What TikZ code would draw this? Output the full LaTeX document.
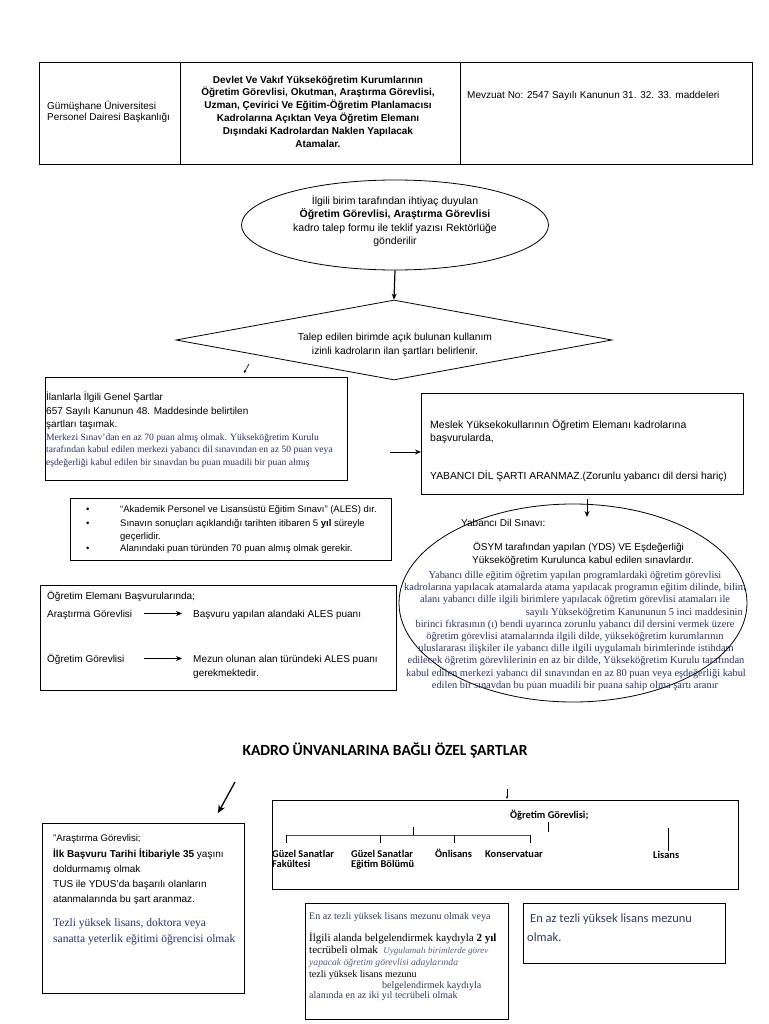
\documentclass[tikz,border=0pt]{standalone}
\usepackage{fontspec}
\setmainfont{Liberation Sans}
\newfontfamily\tms{Liberation Serif}
\newfontfamily\clb{Carlito}
\usetikzlibrary{shapes.geometric,arrows.meta}
\definecolor{navy}{RGB}{40,50,100}
\definecolor{itgray}{RGB}{85,92,125}
\definecolor{bluegray}{RGB}{50,58,95}
\begin{document}
\begin{tikzpicture}[x=1pt,y=-1pt,
 box/.style={draw,line width=0.8pt,inner sep=0pt,anchor=north west},
 T/.style={inner sep=0pt,anchor=base west,font=\fontsize{10}{12}\selectfont},
 S/.style={inner sep=0pt,anchor=base west,font=\tms\fontsize{9.6}{11}\selectfont,text=navy},
 SC/.style={S,anchor=base,font=\tms\fontsize{10.4}{11}\selectfont},
 C/.style={inner sep=0pt,anchor=base west,font=\clb\bfseries\fontsize{10.4}{12}\selectfont},
 arr/.style={-{Stealth[length=6pt,width=5pt]},line width=0.8pt},
 sarr/.style={-{Stealth[length=3pt,width=2.5pt]},line width=0.6pt},
 tick/.style={line width=0.7pt}]
\useasboundingbox (0,0) rectangle (768,1024);

% ---------- header
\node[box,minimum width=141pt,minimum height=102pt] (hA) at (39,62) {};
\node[box,minimum width=280pt,minimum height=102pt] (hB) at (180,62) {};
\node[box,minimum width=292pt,minimum height=102pt] (hC) at (460,62) {};
\node[T] (hA1) at (47,109.5) {Gümüşhane Üniversitesi};
\node[T] (hA2) at (47,121) {Personel Dairesi Başkanlığı};
\node[inner sep=0pt,align=center,font=\bfseries\fontsize{10}{12.8}\selectfont] (hBt) at (318,111.5)
 {Devlet Ve Vakıf Yükseköğretim Kurumlarının\\Öğretim Görevlisi, Okutman, Araştırma Görevlisi,\\Uzman, Çevirici Ve Eğitim-Öğretim Planlamacısı\\Kadrolarına Açıktan Veya Öğretim Elemanı\\Dışındaki Kadrolardan Naklen Yapılacak\\Atamalar.};
\node[T] (hC1) at (467,99) {Mevzuat No: 2547 Sayılı Kanunun 31. 32. 33. maddeleri};

% ---------- top ellipse
\node[draw,ellipse,line width=0.8pt,minimum width=307pt,minimum height=90pt,inner sep=0pt] (e1) at (395,225) {};
\node[inner sep=0pt,align=center,font=\fontsize{10.5}{13.3}\selectfont] (e1t) at (395,221)
 {İlgili birim tarafından ihtiyaç duyulan\\\textbf{Öğretim Görevlisi, Araştırma Görevlisi}\\kadro talep formu ile teklif yazısı Rektörlüğe\\gönderilir};

% ---------- diamond
\node[draw,diamond,aspect=5.45,line width=0.8pt,minimum width=436pt,minimum height=80pt,inner sep=0pt] (dia) at (394,340) {};
\node[inner sep=0pt,align=center,font=\fontsize{10.3}{14.5}\selectfont] (diat) at (395,345)
 {Talep edilen birimde açık bulunan kullanım\\izinli kadroların ilan şartları belirlenir.};
\draw[arr,line width=1.2pt] (e1.south) -- (dia.north);
\coordinate (sa1) at (249,364); \coordinate (sa2) at (244,373);
\draw[sarr] (sa1) -- (sa2);

% ---------- left box
\node[box,minimum width=302pt,minimum height=103pt] (lb) at (45,377) {};
\node[T] (lb1) at (46,400) {İlanlarla İlgili Genel Şartlar};
\node[T] (lb2) at (46,414) {657 Sayılı Kanunun 48. Maddesinde belirtilen};
\node[T] (lb3) at (46,427) {şartları taşımak.};
\node[S] (lb4) at (46,440) {Merkezi Sınav’dan en az 70 puan almış olmak. Yükseköğretim Kurulu};
\node[S] (lb5) at (46,452.5) {tarafından kabul edilen merkezi yabancı dil sınavından en az 50 puan veya};
\node[S] (lb6) at (46,465) {eşdeğerliği kabul edilen bir sınavdan bu puan muadili bir puan almış};

% ---------- right box
\node[box,minimum width=322pt,minimum height=101pt] (rb) at (421,393) {};
\node[T,font=\fontsize{10.5}{12}\selectfont] (rb1) at (430,428) {Meslek Yüksekokullarının Öğretim Elemanı kadrolarına};
\node[T,font=\fontsize{10.5}{12}\selectfont] (rb2) at (430,441) {başvurularda,};
\node[T,font=\fontsize{10.3}{12}\selectfont] (rb3) at (430,479) {YABANCI DİL ŞARTI ARANMAZ.(Zorunlu yabancı dil dersi hariç)};
\coordinate (a2s) at (390,452);
\draw[arr] (a2s) -- (a2s -| rb.west);

% ---------- ALES box
\node[box,minimum width=321pt,minimum height=62pt] (ab) at (70,498) {};
\node[T,font=\fontsize{9.5}{12}\selectfont] (abb1) at (86,512) {•};
\node[T,font=\fontsize{9.5}{12}\selectfont] (abt1) at (120,512) {“Akademik Personel ve Lisansüstü Eğitim Sınavı” (ALES) dır.};
\node[T,font=\fontsize{9.5}{12}\selectfont] (abb2) at (86,526) {•};
\node[T,font=\fontsize{9.5}{12}\selectfont] (abt2) at (120,526) {Sınavın sonuçları açıklandığı tarihten itibaren 5 \textbf{yıl} süreyle};
\node[T,font=\fontsize{9.5}{12}\selectfont] (abt3) at (120,539) {geçerlidir.};
\node[T,font=\fontsize{9.5}{12}\selectfont] (abb3) at (86,551) {•};
\node[T,font=\fontsize{9.5}{12}\selectfont] (abt4) at (120,551) {Alanındaki puan türünden 70 puan almış olmak gerekir.};

% ---------- foreign language ellipse
\node[draw,ellipse,line width=0.8pt,minimum width=348pt,minimum height=198pt,inner sep=0pt] (fe) at (573,603) {};
\coordinate (a3s) at (587,499); \coordinate (a3e) at (587,517);
\draw[arr] (a3s) -- (a3e);
\node[T] (fe0) at (461,526) {Yabancı Dil Sınavı:};
\node[T] (fe1) at (473,550) {ÖSYM tarafından yapılan (YDS) VE Eşdeğerliği};
\node[T,anchor=base] (fe2) at (583,563) {Yükseköğretim Kurulunca kabul edilen sınavlardır.};
\node[SC] (fs1) at (575,578.5) {Yabancı dille eğitim öğretim yapılan programlardaki öğretim görevlisi};
\node[SC] (fs2) at (575,590.7) {kadrolarına yapılacak atamalarda atama yapılacak programın eğitim dilinde, bilim};
\node[SC] (fs3) at (575,602.9) {alanı yabancı dille ilgili birimlere yapılacak öğretim görevlisi atamaları ile};
\node[SC,anchor=base east] (fs4) at (743,615.1) {sayılı Yükseköğretim Kanununun 5 inci maddesinin};
\node[SC] (fs5) at (575,627.3) {birinci fıkrasının (ı) bendi uyarınca zorunlu yabancı dil dersini vermek üzere};
\node[SC] (fs6) at (575,639.5) {öğretim görevlisi atamalarında ilgili dilde, yükseköğretim kurumlarının};
\node[SC] (fs7) at (576,651.7) {uluslararası ilişkiler ile yabancı dille ilgili uygulamalı birimlerinde istihdam};
\node[SC] (fs8) at (576,663.9) {edilecek öğretim görevlilerinin en az bir dilde, Yükseköğretim Kurulu tarafından};
\node[SC] (fs9) at (576,676.1) {kabul edilen merkezi yabancı dil sınavından en az 80 puan veya eşdeğerliği kabul};
\node[SC] (fs10) at (575,688.3) {edilen bir sınavdan bu puan muadili bir puana sahip olma şartı aranır};

% ---------- application box
\node[box,minimum width=356pt,minimum height=105pt] (apb) at (40,585) {};
\node[T] (ap0) at (47,599) {Öğretim Elemanı Başvurularında;};
\node[T] (ap1) at (47,617) {Araştırma Görevlisi};
\node[T] (ap2) at (193,617) {Başvuru yapılan alandaki ALES puanı};
\node[T] (ap3) at (47,662) {Öğretim Görevlisi};
\node[T] (ap4) at (193,662) {Mezun olunan alan türündeki ALES puanı};
\node[T] (ap5) at (193,676) {gerekmektedir.};
\path ([shift={(12pt,3.5pt)}]ap1.base east) coordinate (q1);
\path ([shift={(-11pt,3.5pt)}]ap2.base west) coordinate (q2);
\path ([yshift=3.5pt]ap3.base) coordinate (q3);
\draw[arr] (q1) -- (q2);
\draw[arr] (q1 |- q3) -- (q2 |- q3);

% ---------- title
\node[inner sep=0pt,font=\clb\bfseries\fontsize{15.5}{18}\selectfont] (title) at (385,750) {KADRO ÜNVANLARINA BAĞLI ÖZEL ŞARTLAR};
\coordinate (d1) at (235,782); \coordinate (d2) at (218,813);
\draw[-{Stealth[length=8pt,width=7pt]},line width=1.3pt] (d1) -- (d2);
\coordinate (s1) at (507,789); \coordinate (s2) at (507,799);
\draw[sarr] (s1) -- (s2);

% ---------- Öğretim Görevlisi box
\node[box,minimum width=466pt,minimum height=89pt] (og) at (272,800) {};
\node[C] (ogt) at (510,818) {Öğretim Görevlisi;};
\coordinate (ogk) at (548,822);
\draw[tick] (ogk) -- ++(0,10);
\coordinate (tr0) at (413,827); \coordinate (trL) at (286,835); \coordinate (trR) at (530,835);
\draw[tick] (tr0) -- (tr0 |- trL);
\draw[tick,draw=black!70] (trL) -- (trR);
\foreach \x in {286,380,454,530} \draw[tick] (\x,835) -- (\x,843);
\node[C] (g1a) at (272,857) {Güzel Sanatlar};
\node[C] (g1b) at (272,867.5) {Fakültesi};
\node[C] (g2a) at (351,857) {Güzel Sanatlar};
\node[C] (g2b) at (351,867.5) {Eğitim Bölümü};
\node[C] (g3) at (435,857) {Önlisans};
\node[C] (g4) at (485,857) {Konservatuar};
\node[C] (g5) at (653,858) {Lisans};
\coordinate (lk) at (668,828);
\draw[tick] (lk) -- (lk |- g5.north);

% ---------- bottom left box
\node[box,minimum width=202pt,minimum height=170pt] (bl) at (42,823) {};
\node[T,font=\fontsize{9.6}{11}\selectfont] (bl1) at (53,841) {"Araştırma Görevlisi;};
\node[T] (bl2) at (53,857) {\textbf{İlk Başvuru Tarihi İtibariyle 35} yaşını};
\node[T] (bl3) at (53,872) {doldurmamış olmak};
\node[T] (bl4) at (53,887) {TUS ile YDUS’da başarılı olanların};
\node[T] (bl5) at (53,902) {atanmalarında bu şart aranmaz.};
\node[S,font=\tms\fontsize{11.5}{12}\selectfont] (bl6) at (53,926) {Tezli yüksek lisans, doktora veya};
\node[S,font=\tms\fontsize{11.5}{12}\selectfont] (bl7) at (53,942) {sanatta yeterlik eğitimi öğrencisi olmak};

% ---------- bottom middle box
\node[box,minimum width=203pt,minimum height=116pt] (bm) at (305,903) {};
\node[S,font=\tms\fontsize{10}{11}\selectfont,text=bluegray] (bm1) at (309,919) {En az tezli yüksek lisans mezunu olmak veya};
\node[S,font=\tms\fontsize{11}{11}\selectfont,text=black] (bm2) at (309,941) {İlgili alanda belgelendirmek kaydıyla \textbf{2 yıl}};
\node[S,font=\tms\fontsize{11}{11}\selectfont,text=black] (bm3) at (309,953) {tecrübeli olmak\ \ \textcolor{itgray}{\itshape\fontsize{9}{11}\selectfont Uygulamalı birimlerde görev}};
\node[S,font=\tms\itshape\fontsize{9.6}{11}\selectfont,text=itgray] (bm4) at (309,965) {yapacak öğretim görevlisi adaylarında};
\node[S,font=\tms\fontsize{10}{11}\selectfont,text=black] (bm5) at (309,977) {tezli yüksek lisans mezunu};
\node[S,font=\tms\fontsize{10}{11}\selectfont,text=bluegray] (bm6) at (382,988) {belgelendirmek kaydıyla};
\node[S,font=\tms\fontsize{10}{11}\selectfont,text=bluegray] (bm7) at (309,998) {alanında en az iki yıl tecrübeli olmak};

% ---------- bottom right box
\node[box,minimum width=202pt,minimum height=60pt] (br) at (523,903) {};
\node[T,font=\clb\fontsize{12.5}{14}\selectfont,text=bluegray] (br1) at (530,922) {En az tezli yüksek lisans mezunu};
\node[T,font=\clb\fontsize{12.5}{14}\selectfont,text=bluegray] (br2) at (527,941) {olmak.};
\end{tikzpicture}
\end{document}
